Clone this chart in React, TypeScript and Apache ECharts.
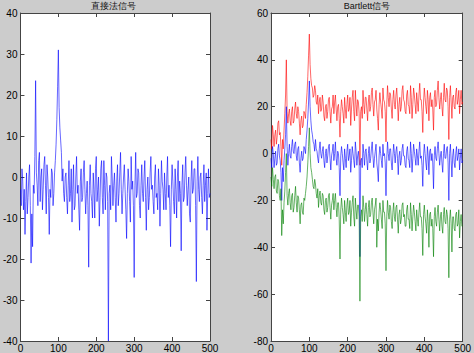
import React, { useEffect, useRef } from "react";
import * as echarts from "echarts";

// x positions: 0, 2, 4, ..., 500 (sample index)
const step = 2;

// Left: 直接法信号 (blue)
const directSignal = [
  -3, -7, 2, -1, -8, -3, -14, -6, 1, -9, -5, 0, 3, -7, -21, -9, -17, -2, -4, 5,
  23.5, 1, -2, -7, 4, 6, -6, 0, 2, -8, -3, 3, 5, -2, -9, 3, 0, -5, -14, -3,
  -5, 2, 1, -7, -4, 1, 4, 8, 14, 22, 31, 17, 12, 9, 6, -1, 2, -4, -6, 0,
  1, -5, -9, -2, 4, -6, -4, 2, -11, -3, 3, -8, -7, 0, 5, -4, -2, -8, -13, -1,
  2, -6, -5, 1, 4, -3, -9, -4, -1, -7, -22, -2, 3, -4, -6, -10, 1, -3, -10, 2,
  5, -6, -3, 0, -12, -5, 2, 4, -5, -9, 4, -2, -8, 1, 0, -6, -40, -4, -2, -8,
  5, 0, -7, -2, 1, -5, -11, -1, 3, -7, -4, 1, 6, -3, -9, -4, 0, 3, -3, -8,
  -15, -4, 2, -1, -6, -11, 5, -3, -1, -7, -24.5, -2, 6, -5, -4, 2, 1, -7, -10, -2,
  3, -4, -6, 0, 4, -5, -13, -3, 0, -8, -5, 1, 5, -3, -2, -6, -9, 0, 3, -5,
  -4, -8, 2, -2, -12, -4, 4, -1, -3, -8, 1, -4, -8, 0, 5, -5, -2, -7, -17, -3,
  3, -1, -6, -9, 2, -3, -10, 0, 4, -6, -1, -4, -18, -2, 3, -6, -5, 1, 5, -2,
  -7, -3, 0, -9, -11, -1, 4, -4, -3, 2, 2, -7, -25.5, -1, 5, -3, -6, 0, 1, -5,
  -9, -2, 3, -6, -2, 1, -13, -4, 2, -5, -4,
];

// Right: Bartlett信号 (red / blue / green)
const bartlettRed = [
  6, 2, 12, 8, 3, 8, 10, 4, 7, 13, 14, 8, 9, 3, -5, 6, 2, 10, 17, 25,
  40, 18, 13, 17, 19, 14, 12, 18, 20, 13, 14, 19, 22, 17, 15, 20, 18, 13, 8, 14,
  16, 11, 12, 18, 17, 15, 21, 26, 33, 42, 51, 38, 32, 29, 28, 24, 25, 29, 27, 22,
  21, 25, 17, 22, 24, 18, 19, 25, 22, 16, 14, 20, 21, 15, 18, 23, 24, 18, 13, 19,
  20, 25, 17, 22, 25, 19, 14, 20, 21, 15, 7, 18, 23, 20, 17, 13, 24, 19, 15, 21,
  25, 18, 19, 24, 12, 19, 24, 27, 18, 14, 27, 21, 16, 23, 22, 17, -5, 18, 20, 15,
  27, 21, 17, 24, 24, 19, 14, 22, 25, 18, 20, 26, 28, 21, 16, 22, 23, 27, 19, 15,
  10, 21, 26, 22, 19, 15, 28, 23, 22, 18, 5, 21, 29, 24, 20, 26, 25, 19, 15, 23,
  27, 21, 19, 25, 28, 22, 14, 21, 24, 18, 20, 27, 29, 23, 22, 18, 17, 25, 27, 21,
  20, 17, 29, 24, 15, 21, 28, 25, 21, 17, 26, 22, 18, 25, 30, 23, 23, 18, 9, 22,
  28, 24, 20, 17, 27, 23, 14, 24, 26, 20, 23, 19, 10, 24, 27, 20, 21, 27, 31, 24,
  19, 23, 26, 20, 16, 24, 30, 23, 22, 28, 27, 20, 6, 24, 29, 22, 15, 24, 25, 20,
  19, 26, 28, 21, 23, 27, 17, 23, 27, 21, 22,
];
const bartlettBlue = [
  -2, -6, 3, 0, -6, -2, 1, -5, -4, 2, 4, -1, -3, -8, -20, -6, -12, -3, 2, 8,
  20, 3, -5, 0, 4, -1, -2, 3, 6, 1, 0, 4, 5, -1, -3, 2, 3, -4, -8, -2,
  1, -3, -2, 3, 2, 0, 6, 10, 15, 22, 31, 20, 14, 10, 8, 5, 4, 1, 6, 2,
  1, -2, -4, 2, 5, 0, -2, 1, 3, -3, -6, 0, 2, -4, -1, 3, 4, -2, -7, -1,
  1, 4, -3, 0, 5, -2, -5, 1, 0, -6, -18, -1, 3, 0, -4, -7, 2, -2, -6, 1,
  4, -3, -1, 2, -8, -3, 3, 0, -3, -6, 5, 1, -5, -1, 1, -4, -44, -3, -2, -6,
  4, 0, -5, 1, 2, -3, -7, 0, 3, -4, -2, 2, 5, -1, -6, -2, 1, 4, -4, -7,
  -12, -1, 3, 0, -3, -6, 4, -1, 0, -4, -18, -2, 5, 0, -3, 2, 2, -4, -7, -1,
  4, 0, -4, 1, 3, -2, -9, -1, 1, -5, -3, 2, 4, -1, -1, -5, -6, 1, 3, -2,
  -3, -6, 5, 0, -8, -2, 4, 1, -2, -5, 2, -1, -5, 1, 5, -2, -1, -5, -14, -1,
  4, 0, -4, -7, 3, -1, -9, 1, 2, -3, 0, -4, -15, -1, 3, -2, -3, 2, 5, 0,
  -5, -1, 1, -4, -8, 0, 4, -2, -2, 2, 3, -4, -20, 0, 4, -3, -10, -1, 2, -4,
  -6, 0, 3, -3, -1, 2, -7, -2, 2, -4, -3,
];
const bartlettGreen = [
  -10, -14, -6, -11, -15, -10, -9, -16, -17, -11, -12, -18, -20, -15, -35, -24, -30, -21, -16, -8,
  0, -18, -22, -17, -15, -21, -24, -18, -17, -25, -23, -18, -14, -21, -25, -18, -19, -24, -30, -22,
  -21, -25, -26, -19, -20, -17, -14, -10, -4, 3, 11, 0, -6, -8, -11, -14, -15, -11, -13, -17,
  -19, -15, -23, -18, -16, -21, -22, -17, -18, -24, -26, -20, -19, -25, -23, -18, -17, -23, -28, -22,
  -20, -17, -24, -20, -17, -23, -27, -21, -21, -28, -45, -24, -19, -23, -26, -30, -20, -25, -29, -22,
  -19, -26, -25, -20, -31, -25, -21, -18, -27, -31, -19, -24, -28, -22, -22, -27, -63, -27, -24, -29,
  -18, -23, -29, -24, -21, -26, -31, -23, -20, -27, -26, -21, -19, -25, -30, -24, -22, -19, -40, -28,
  -33, -25, -21, -24, -28, -32, -20, -25, -25, -30, -50, -27, -20, -25, -28, -22, -23, -29, -32, -25,
  -21, -27, -29, -23, -22, -28, -34, -26, -24, -30, -28, -22, -21, -27, -26, -31, -31, -24, -22, -28,
  -28, -32, -21, -26, -33, -27, -22, -25, -29, -33, -24, -28, -31, -25, -21, -27, -27, -32, -43.5, -26,
  -22, -27, -30, -34, -24, -29, -40, -26, -25, -31, -28, -32, -44, -27, -23, -29, -31, -25, -22, -28,
  -33, -27, -25, -31, -34, -26, -23, -29, -30, -24, -26, -32, -53, -28, -24, -30, -42, -27, -27, -32,
  -33, -26, -25, -31, -30, -24, -36, -29, -26, -31, -31,
];

const xTicks = [0, 100, 200, 300, 400, 500];
const leftTicks = [-40, -30, -20, -10, 0, 10, 20, 30, 40];
const rightTicks = [-80, -60, -40, -20, 0, 20, 40, 60];

const toPairs = (arr: number[]) => arr.map((v, i) => [i * step, v]);

export default function App() {
  const ref = useRef<HTMLDivElement>(null);
  useEffect(() => {
    if (!ref.current) return;
    const chart = echarts.init(ref.current, undefined, { renderer: "svg" });
    const font = "Liberation Sans, Arial, sans-serif";
    const axisLine = { show: true, onZero: false, lineStyle: { color: "#444", width: 1 } };
    const tick = { show: true, inside: true, length: 4, lineStyle: { color: "#444" } };
    const label = { color: "#000", fontSize: 10, fontFamily: font };
    const mkX = (grid: number, pos: "bottom" | "top", show: boolean) => ({
      type: "value",
      gridIndex: grid,
      position: pos,
      min: xTicks[0],
      max: xTicks[xTicks.length - 1],
      interval: xTicks[1] - xTicks[0],
      axisLine,
      axisTick: tick,
      axisLabel: { ...label, show, margin: 2 },
      splitLine: { show: false },
    });
    const mkY = (grid: number, pos: "left" | "right", show: boolean, ticks: number[]) => ({
      type: "value",
      gridIndex: grid,
      position: pos,
      min: ticks[0],
      max: ticks[ticks.length - 1],
      interval: ticks[1] - ticks[0],
      axisLine,
      axisTick: tick,
      axisLabel: { ...label, show, margin: 3 },
      splitLine: { show: false },
    });
    const line = (xi: number, data: number[], color: string) => ({
      type: "line",
      xAxisIndex: xi,
      yAxisIndex: xi,
      data: toPairs(data),
      showSymbol: false,
      lineStyle: { color, width: 0.6 },
    });
    const titleStyle = { fontSize: 9, fontWeight: "normal", color: "#111", fontFamily: font };
    chart.setOption({
      animation: false,
      backgroundColor: "#cccccc",
      title: [
        { text: "直接法信号", left: 113, top: 1, padding: 0, textAlign: "center", textStyle: titleStyle },
        { text: "Bartlett信号", left: 367, top: 1, padding: 0, textAlign: "center", textStyle: titleStyle },
      ],
      grid: [
        { left: 17, top: 13, width: 193, height: 329, show: true, backgroundColor: "#ffffff", borderWidth: 0 },
        { left: 271, top: 13, width: 193, height: 329, show: true, backgroundColor: "#ffffff", borderWidth: 0 },
      ],
      xAxis: [mkX(0, "bottom", true), mkX(0, "top", false), mkX(1, "bottom", true), mkX(1, "top", false)],
      yAxis: [
        mkY(0, "left", true, leftTicks),
        mkY(0, "right", false, leftTicks),
        mkY(1, "left", true, rightTicks),
        mkY(1, "right", false, rightTicks),
      ],
      series: [
        line(0, directSignal, "#0000ff"),
        line(2, bartlettRed, "#ff0000"),
        line(2, bartlettBlue, "#0000ff"),
        line(2, bartlettGreen, "#008000"),
      ],
    });
    return () => chart.dispose();
  }, []);
  return (
    <div
      ref={ref}
      style={{ position: "fixed", left: 0, top: 0, width: 474, height: 353 }}
    />
  );
}
